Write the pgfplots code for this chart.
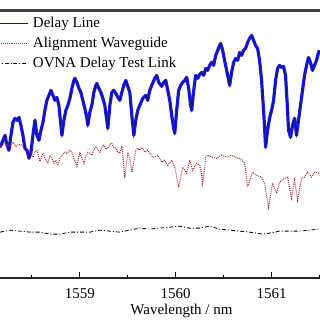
\documentclass[border=0pt]{standalone}
\usepackage{fontspec}
\setmainfont{Liberation Serif}
\usepackage{pgfplots}
\pgfplotsset{compat=1.18}
\definecolor{dlblue}{RGB}{25,25,240}
\definecolor{dlnavy}{RGB}{20,20,120}
\definecolor{awred}{RGB}{165,40,45}
\begin{document}
\begin{tikzpicture}
\begin{axis}[
  scale only axis, width=491.5bp, height=268bp,
  xmin=1557.5, xmax=1562.62, ymin=0, ymax=268,
  axis line style={line width=1.4bp, black!85},
  xtick={1558,1559,1560,1561},
  xticklabels={,1559,1560,1561},
  minor xtick={1558.5,1559.5,1560.5,1561.5},
  xtick pos=bottom, ytick=\empty,
  tick align=inside,
  major tick length=6bp, minor tick length=3.5bp,
  every tick/.style={black, line width=0.9bp},
  xticklabel style={font=\fontsize{15bp}{18bp}\selectfont, anchor=center, yshift=-15.5bp},
  xlabel={Wavelength / nm},
  xlabel style={font=\fontsize{15bp}{18bp}\selectfont, at={(axis description cs:0.5,0)}, anchor=center, yshift=-32.5bp},
  legend image code/.code={\draw[#1] (0bp,0bp) -- (42bp,0bp);},
  legend style={at={(axis cs:1558.0208,262)}, anchor=north west, draw=none, fill=none,
    inner sep=0pt, outer sep=0pt, font=\fontsize{15bp}{18bp}\selectfont,
    row sep=6bp, column sep=4bp,
    nodes={inner sep=0pt, text height=11bp, text depth=3bp}},
  legend cell align=left,
]
\addplot[dlblue, line width=3.2bp, line join=round, forget plot] coordinates {
(1558.167,131) (1558.198,138) (1558.219,143) (1558.240,133) (1558.260,128) (1558.281,143) (1558.302,156) (1558.323,160) (1558.344,158) (1558.365,161) (1558.385,153) (1558.406,143) (1558.427,130) (1558.448,128) (1558.469,120) (1558.490,126) (1558.510,143) (1558.531,158) (1558.552,143) (1558.573,138) (1558.594,148) (1558.615,156) (1558.635,168) (1558.656,178) (1558.677,183) (1558.698,188) (1558.719,183) (1558.740,178) (1558.760,181) (1558.781,173) (1558.802,153) (1558.813,143) (1558.833,158) (1558.854,168) (1558.875,173) (1558.896,180) (1558.917,190) (1558.938,198) (1558.948,200) (1558.969,196) (1558.990,190) (1559.010,186) (1559.031,178) (1559.052,170) (1559.073,160) (1559.083,153) (1559.104,166) (1559.125,173) (1559.146,186) (1559.167,193) (1559.177,195) (1559.198,190) (1559.219,186) (1559.240,180) (1559.260,173) (1559.281,158) (1559.292,150) (1559.313,173) (1559.333,186) (1559.354,188) (1559.375,185) (1559.396,181) (1559.417,178) (1559.438,186) (1559.458,193) (1559.479,198) (1559.500,192) (1559.521,186) (1559.542,163) (1559.563,143) (1559.583,158) (1559.604,168) (1559.625,173) (1559.656,180) (1559.688,183) (1559.708,178) (1559.729,188) (1559.750,193) (1559.781,200) (1559.802,203) (1559.823,196) (1559.854,192) (1559.875,196) (1559.896,198) (1559.917,188) (1559.938,178) (1559.958,163) (1559.979,150) (1559.990,145) (1560.010,168) (1560.031,188) (1560.052,193) (1560.073,196) (1560.094,198) (1560.115,201) (1560.135,190) (1560.156,173) (1560.167,168) (1560.188,188) (1560.208,203) (1560.229,200) (1560.250,204) (1560.271,206) (1560.292,203) (1560.313,210) (1560.333,208) (1560.354,213) (1560.375,216) (1560.396,213) (1560.417,223) (1560.438,228) (1560.458,233) (1560.469,235) (1560.490,228) (1560.510,218) (1560.531,208) (1560.552,198) (1560.563,193) (1560.583,206) (1560.604,216) (1560.625,220) (1560.646,218) (1560.667,226) (1560.688,223) (1560.708,228) (1560.729,230) (1560.750,236) (1560.771,240) (1560.792,243) (1560.813,238) (1560.833,233) (1560.854,230) (1560.875,218) (1560.896,198) (1560.906,183) (1560.917,168) (1560.938,131) (1560.958,148) (1560.979,160) (1561.000,168) (1561.021,178) (1561.042,198) (1561.063,210) (1561.083,213) (1561.104,211) (1561.125,212) (1561.146,203) (1561.167,168) (1561.177,148) (1561.198,141) (1561.219,153) (1561.240,160) (1561.260,143) (1561.281,158) (1561.302,173) (1561.323,188) (1561.344,203) (1561.365,213) (1561.385,221) (1561.406,216) (1561.427,208) (1561.448,213) (1561.469,218) (1561.490,226) (1561.500,228)
};
\addplot[dlnavy, line width=0.8bp] coordinates {
(1558.167,131) (1558.198,138) (1558.219,143) (1558.240,133) (1558.260,128) (1558.281,143) (1558.302,156) (1558.323,160) (1558.344,158) (1558.365,161) (1558.385,153) (1558.406,143) (1558.427,130) (1558.448,128) (1558.469,120) (1558.490,126) (1558.510,143) (1558.531,158) (1558.552,143) (1558.573,138) (1558.594,148) (1558.615,156) (1558.635,168) (1558.656,178) (1558.677,183) (1558.698,188) (1558.719,183) (1558.740,178) (1558.760,181) (1558.781,173) (1558.802,153) (1558.813,143) (1558.833,158) (1558.854,168) (1558.875,173) (1558.896,180) (1558.917,190) (1558.938,198) (1558.948,200) (1558.969,196) (1558.990,190) (1559.010,186) (1559.031,178) (1559.052,170) (1559.073,160) (1559.083,153) (1559.104,166) (1559.125,173) (1559.146,186) (1559.167,193) (1559.177,195) (1559.198,190) (1559.219,186) (1559.240,180) (1559.260,173) (1559.281,158) (1559.292,150) (1559.313,173) (1559.333,186) (1559.354,188) (1559.375,185) (1559.396,181) (1559.417,178) (1559.438,186) (1559.458,193) (1559.479,198) (1559.500,192) (1559.521,186) (1559.542,163) (1559.563,143) (1559.583,158) (1559.604,168) (1559.625,173) (1559.656,180) (1559.688,183) (1559.708,178) (1559.729,188) (1559.750,193) (1559.781,200) (1559.802,203) (1559.823,196) (1559.854,192) (1559.875,196) (1559.896,198) (1559.917,188) (1559.938,178) (1559.958,163) (1559.979,150) (1559.990,145) (1560.010,168) (1560.031,188) (1560.052,193) (1560.073,196) (1560.094,198) (1560.115,201) (1560.135,190) (1560.156,173) (1560.167,168) (1560.188,188) (1560.208,203) (1560.229,200) (1560.250,204) (1560.271,206) (1560.292,203) (1560.313,210) (1560.333,208) (1560.354,213) (1560.375,216) (1560.396,213) (1560.417,223) (1560.438,228) (1560.458,233) (1560.469,235) (1560.490,228) (1560.510,218) (1560.531,208) (1560.552,198) (1560.563,193) (1560.583,206) (1560.604,216) (1560.625,220) (1560.646,218) (1560.667,226) (1560.688,223) (1560.708,228) (1560.729,230) (1560.750,236) (1560.771,240) (1560.792,243) (1560.813,238) (1560.833,233) (1560.854,230) (1560.875,218) (1560.896,198) (1560.906,183) (1560.917,168) (1560.938,131) (1560.958,148) (1560.979,160) (1561.000,168) (1561.021,178) (1561.042,198) (1561.063,210) (1561.083,213) (1561.104,211) (1561.125,212) (1561.146,203) (1561.167,168) (1561.177,148) (1561.198,141) (1561.219,153) (1561.240,160) (1561.260,143) (1561.281,158) (1561.302,173) (1561.323,188) (1561.344,203) (1561.365,213) (1561.385,221) (1561.406,216) (1561.427,208) (1561.448,213) (1561.469,218) (1561.490,226) (1561.500,228)
};
\addlegendentry{Delay Line}
\addplot[awred, line width=1.05bp, dash pattern=on 0.9bp off 1.1bp] coordinates {
(1558.167,131) (1558.198,134) (1558.219,135) (1558.250,132) (1558.271,133) (1558.302,136) (1558.333,132) (1558.365,134) (1558.396,133) (1558.427,130) (1558.458,128) (1558.479,127) (1558.510,121) (1558.531,126) (1558.552,128) (1558.583,117) (1558.615,125) (1558.646,118) (1558.667,115) (1558.688,123) (1558.708,120) (1558.729,115) (1558.750,118) (1558.771,113) (1558.792,120) (1558.813,123) (1558.844,126) (1558.865,125) (1558.896,128) (1558.917,126) (1558.938,120) (1558.969,112) (1559.000,126) (1559.021,120) (1559.042,115) (1559.063,122) (1559.083,126) (1559.104,125) (1559.125,123) (1559.146,128) (1559.167,132) (1559.188,128) (1559.208,126) (1559.229,131) (1559.250,133) (1559.271,129) (1559.292,130) (1559.313,134) (1559.333,135) (1559.354,131) (1559.375,130) (1559.396,126) (1559.417,125) (1559.438,132) (1559.458,113) (1559.469,100) (1559.490,118) (1559.500,126) (1559.521,120) (1559.542,106) (1559.563,116) (1559.583,128) (1559.604,130) (1559.625,128) (1559.646,131) (1559.677,126) (1559.708,128) (1559.729,125) (1559.760,121) (1559.781,121) (1559.813,123) (1559.854,116) (1559.885,118) (1559.917,113) (1559.958,118) (1559.990,111) (1560.010,101) (1560.031,91) (1560.052,101) (1560.073,111) (1560.094,108) (1560.115,105) (1560.146,118) (1560.177,108) (1560.219,115) (1560.250,113) (1560.271,103) (1560.281,95) (1560.302,110) (1560.313,121) (1560.333,123) (1560.385,121) (1560.427,120) (1560.479,123) (1560.531,121) (1560.583,123) (1560.635,120) (1560.667,120) (1560.688,118) (1560.719,115) (1560.750,91) (1560.771,98) (1560.802,106) (1560.844,103) (1560.896,101) (1560.927,95) (1560.948,83) (1560.969,71) (1560.990,83) (1561.010,95) (1561.052,85) (1561.083,96) (1561.135,100) (1561.167,101) (1561.188,90) (1561.208,80) (1561.240,98) (1561.271,78) (1561.313,100) (1561.344,101) (1561.375,106) (1561.417,101) (1561.448,106) (1561.500,105)
};
\addlegendentry{Alignment Waveguide}
\addplot[black, line width=0.8bp, dash pattern=on 4bp off 2bp on 1bp off 2bp] coordinates {
(1558.167,46) (1558.271,48) (1558.375,47) (1558.479,46) (1558.583,46) (1558.688,44) (1558.792,44) (1558.896,46) (1559.000,46) (1559.104,46) (1559.208,48) (1559.313,47) (1559.417,46) (1559.521,48) (1559.625,50) (1559.729,49) (1559.833,50) (1559.938,51) (1560.042,52) (1560.146,50) (1560.250,50) (1560.354,52) (1560.458,49) (1560.563,48) (1560.667,47) (1560.771,46) (1560.906,44) (1560.979,45) (1561.083,47) (1561.188,47) (1561.292,47) (1561.396,48) (1561.500,49)
};
\addlegendentry{OVNA Delay Test Link}
\coordinate (bl0) at (axis cs:1558.1667,0);
\coordinate (tr0) at (axis cs:1561.5,268);
\end{axis}
\draw[black!75, line width=2.2bp] ([xshift=5bp]tr0) -- ([xshift=-340bp]tr0);
\pgfresetboundingbox
\path[use as bounding box] ([yshift=-42bp]bl0) rectangle ([yshift=10.5bp]tr0);
\end{tikzpicture}
\end{document}
